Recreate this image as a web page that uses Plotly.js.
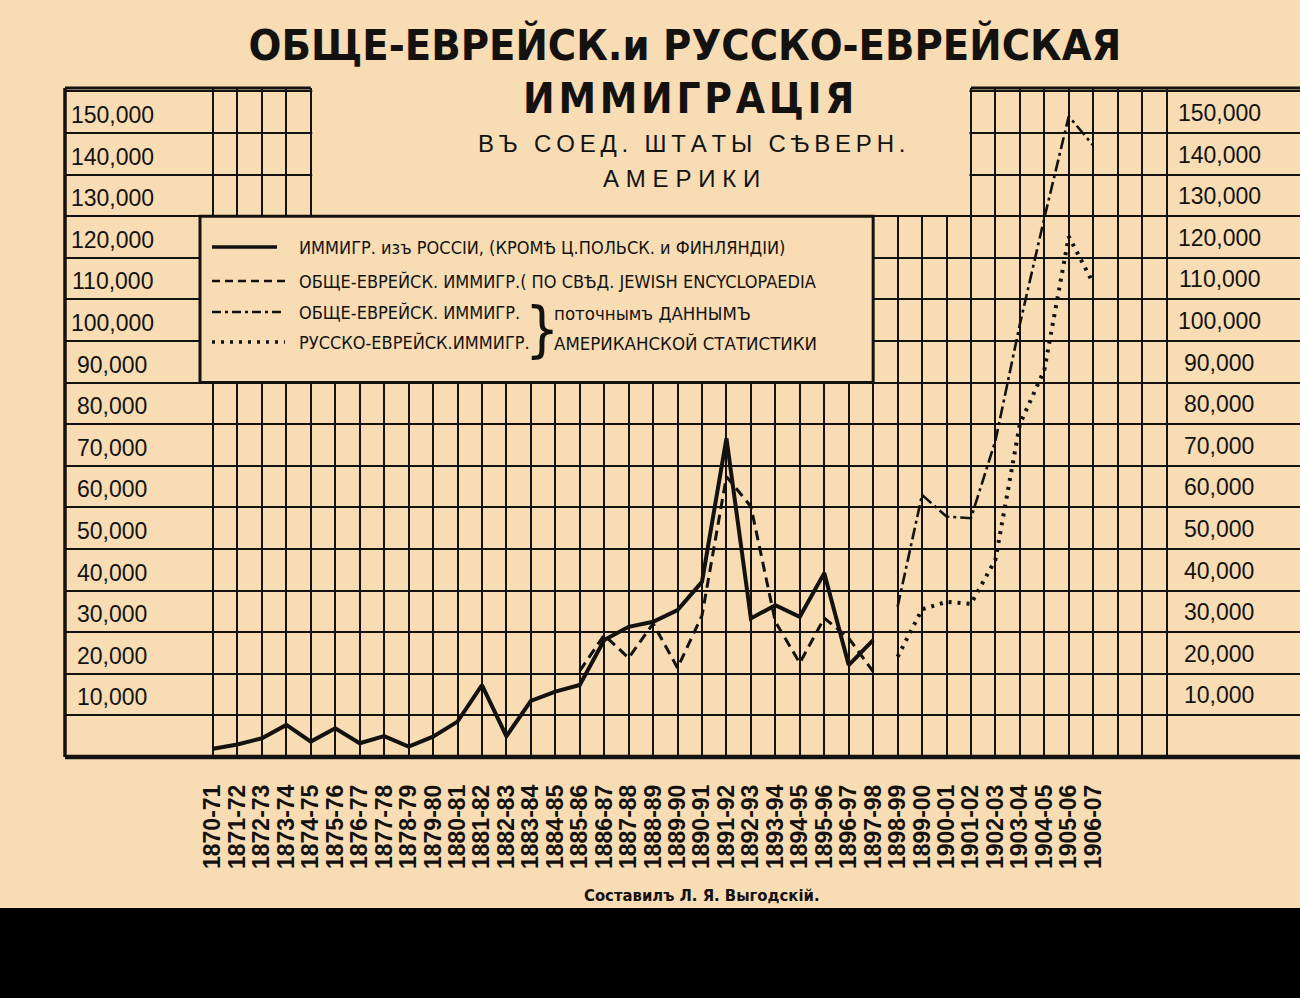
<!DOCTYPE html>
<html>
<head>
<meta charset="utf-8">
<script src="https://cdn.plot.ly/plotly-3.0.1.min.js"></script>
<style>
html,body{margin:0;padding:0;background:#F7DCB4;}
#chart{width:1300px;height:998px;}
</style>
</head>
<body>
<div id="chart"></div>
<script>
// ---------------- DATA ----------------
const periods = ['1870-71','1871-72','1872-73','1873-74','1874-75','1875-76','1876-77','1877-78','1878-79','1879-80',
  '1880-81','1881-82','1882-83','1883-84','1884-85','1885-86','1886-87','1887-88','1888-89','1889-90',
  '1890-91','1891-92','1892-93','1893-94','1894-95','1895-96','1896-97','1897-98','1898-99','1899-00',
  '1900-01','1901-02','1902-03','1903-04','1904-05','1905-06','1906-07'];

// Иммигр. изъ Россiи (solid), 1870-71 .. 1897-98
const russiaStart = '1870-71';
const russiaValues = [2000, 3000, 4500, 7700, 3700, 6900, 3300, 5000, 2500, 4900,
  8500, 17300, 5000, 13500, 15700, 17300, 28100, 31300, 32500, 35300,
  42100, 76600, 33300, 36500, 33700, 44200, 22100, 28100];

// Обще-еврейск. иммигр. по Jewish Encyclopaedia (dashed), 1885-86 .. 1897-98
const encStart = '1885-86';
const encValues = [20700, 29300, 23800, 32100, 21400, 34000, 67400, 60200, 32500, 22600, 33400, 28600, 20500];

// Обще-еврейск. иммигр. (американская статистика, dash-dot), 1898-99 .. 1906-07
const usStart = '1898-99';
const jewishUsValues = [36100, 63000, 57800, 57400, 76000, 104000, 129500, 154000, 147000];

// Русско-еврейск. иммигр. (dotted), 1898-99 .. 1906-07
const russianJewishValues = [24100, 35500, 37300, 36800, 47400, 80000, 93000, 125100, 113900];

const yTickValues = [10000,20000,30000,40000,50000,60000,70000,80000,90000,100000,110000,120000,130000,140000,150000];
const yTickLabels = ['10,000','20,000','30,000','40,000','50,000','60,000','70,000','80,000','90,000','100,000','110,000','120,000','130,000','140,000','150,000'];

const legendLabels = [
  'ИММИГР. изъ РОССIИ, (КРОМѢ Ц.ПОЛЬСК. и ФИНЛЯНДIИ)',
  'ОБЩЕ-ЕВРЕЙСК. ИММИГР.( ПО СВѢД. JEWISH ENCYCLOPAEDIA',
  'ОБЩЕ-ЕВРЕЙСК. ИММИГР.',
  'РУССКО-ЕВРЕЙСК.ИММИГР.'
];
const braceLabels = ['поточнымъ ДАННЫМЪ', 'АМЕРИКАНСКОЙ СТАТИСТИКИ'];
const titleLines = ['ОБЩЕ-ЕВРЕЙСК.и РУССКО-ЕВРЕЙСКАЯ', 'ИММИГРАЦIЯ', 'ВЪ СОЕД. ШТАТЫ СѢВЕРН.', 'АМЕРИКИ'];
const caption = 'Составилъ Л. Я. Выгодскiй.';

// ---------------- GEOMETRY / STYLE ----------------
const BG = '#F7DCB4';
const INK = '#141210';
const NARROW = "'DejaVu Sans Condensed', 'Liberation Sans Narrow', 'Arial Narrow', 'DejaVu Sans', sans-serif";
const SANS = "'Liberation Sans', 'DejaVu Sans', Arial, sans-serif";
const PL = {l: 65, t: 88, w: 1235, h: 669};
const XR = [-6.053, 44.458];
const YMAX = 160800;
const px2x = px => XR[0] + (px - PL.l) / PL.w * (XR[1] - XR[0]);
const px2p = px => (px - PL.l) / PL.w;
const py2p = py => (PL.t + PL.h - py) / PL.h;
const xIdx = label => periods.indexOf(label);
const xsFor = (start, vals) => vals.map((_, k) => xIdx(start) + k);
const spaced = (s, sep) => Array.from(s).join(sep);
const idx2p = i => (i - XR[0]) / (XR[1] - XR[0]);

const gridCols = Array.from({length: periods.length + 3}, (_, i) => i);
const gridText = periods.concat(['', '', '']);

// ---------------- TRACES ----------------
const traces = [
  {x: xsFor(russiaStart, russiaValues), y: russiaValues, type: 'scatter', mode: 'lines',
   line: {color: INK, width: 4}, name: legendLabels[0], hoverinfo: 'skip'},
  {x: xsFor(encStart, encValues), y: encValues, type: 'scatter', mode: 'lines',
   line: {color: INK, width: 3, dash: '10px,6px'}, name: legendLabels[1], hoverinfo: 'skip'},
  {x: xsFor(usStart, jewishUsValues), y: jewishUsValues, type: 'scatter', mode: 'lines',
   line: {color: INK, width: 2.6, dash: '12px,4px,3px,4px'}, name: legendLabels[2], hoverinfo: 'skip'},
  {x: xsFor(usStart, russianJewishValues), y: russianJewishValues, type: 'scatter', mode: 'lines',
   line: {color: INK, width: 4, dash: '3px,6px'}, name: legendLabels[3], hoverinfo: 'skip'}
];

// ---------------- SHAPES ----------------
const shapes = [];
// cover the title area (no grid there)
shapes.push({type: 'rect', xref: 'x', yref: 'y', x0: 4.06, x1: 30.94, y0: 130300, y1: YMAX + 20000,
  fillcolor: BG, line: {width: 0}, layer: 'above'});
// legend box
shapes.push({type: 'rect', xref: 'x', yref: 'y', x0: px2x(200), x1: 27, y0: 90000, y1: 130000,
  fillcolor: BG, line: {color: INK, width: 3}, layer: 'above'});
// legend samples
const sampleY = [247, 281, 312, 342];
const sampleStyles = [
  {width: 3.5, dash: 'solid', x1: 277},
  {width: 2.5, dash: '8px,5px', x1: 285},
  {width: 2.5, dash: '9px,4px,3px,4px', x1: 285},
  {width: 3.5, dash: '3px,6px', x1: 285}
];
sampleStyles.forEach((s, k) => {
  shapes.push({type: 'line', xref: 'paper', yref: 'paper', x0: px2p(212), x1: px2p(s.x1),
    y0: py2p(sampleY[k]), y1: py2p(sampleY[k]), line: {color: INK, width: s.width, dash: s.dash}, layer: 'above'});
});
// frame
const frame = (x0, y0, x1, y1, w) => shapes.push({type: 'line', xref: 'paper', yref: 'paper',
  x0: x0, y0: y0, x1: x1, y1: y1, line: {color: INK, width: w}, layer: 'above'});
frame(0, 0, 0, 1, 3.5);
frame(0, 1, idx2p(4), 1, 3);
frame(idx2p(31), 1, 1, 1, 3);
frame(0, 0, 1, 0, 4.5);
// black band at the bottom of the picture
shapes.push({type: 'rect', xref: 'paper', yref: 'paper', x0: px2p(-20), x1: px2p(1320),
  y0: py2p(1010), y1: py2p(908), fillcolor: '#000000', line: {width: 0}, layer: 'above'});

// ---------------- ANNOTATIONS ----------------
const ann = [];
yTickValues.forEach((v, k) => {
  ann.push({xref: 'x', yref: 'y', x: px2x(112), y: v, yshift: 18, text: yTickLabels[k], showarrow: false,
    xanchor: 'center', yanchor: 'middle', font: {family: SANS, size: 23, color: INK}});
  ann.push({xref: 'x', yref: 'y', x: px2x(1219), y: v, yshift: 20, text: yTickLabels[k], showarrow: false,
    xanchor: 'center', yanchor: 'middle', font: {family: SANS, size: 23, color: INK}});
});
legendLabels.forEach((t, k) => {
  ann.push({xref: 'paper', yref: 'paper', x: px2p(297), y: py2p(sampleY[k]), text: t, showarrow: false,
    xanchor: 'left', yanchor: 'middle', font: {family: NARROW, size: 18, color: INK}});
});
ann.push({xref: 'paper', yref: 'paper', x: px2p(542), y: py2p(329), text: '}', showarrow: false,
  xanchor: 'center', yanchor: 'middle', font: {family: NARROW, size: 60, color: INK}});
braceLabels.forEach((t, k) => {
  ann.push({xref: 'paper', yref: 'paper', x: px2p(552), y: py2p(sampleY[k + 2] + 1), text: t, showarrow: false,
    xanchor: 'left', yanchor: 'middle', font: {family: NARROW, size: 18.5, color: INK}});
});
ann.push({xref: 'paper', yref: 'paper', x: px2p(688), y: py2p(99), text: spaced(titleLines[1], '\u200A'),
  showarrow: false, xanchor: 'center', yanchor: 'middle', font: {family: NARROW, size: 42, weight: 'bold', color: INK}});
ann.push({xref: 'paper', yref: 'paper', x: px2p(691), y: py2p(143), text: spaced(titleLines[2], '\u2009'),
  showarrow: false, xanchor: 'center', yanchor: 'middle', font: {family: SANS, size: 24, color: INK}});
ann.push({xref: 'paper', yref: 'paper', x: px2p(681), y: py2p(178), text: spaced(titleLines[3], '\u2009\u200A'),
  showarrow: false, xanchor: 'center', yanchor: 'middle', font: {family: SANS, size: 24, color: INK}});
ann.push({xref: 'paper', yref: 'paper', x: px2p(702), y: py2p(895), text: caption,
  showarrow: false, xanchor: 'center', yanchor: 'middle', font: {family: NARROW, size: 16.5, weight: 'bold', color: INK}});

// ---------------- LAYOUT ----------------
const layout = {
  width: 1300, height: 998,
  paper_bgcolor: BG, plot_bgcolor: BG,
  margin: {l: PL.l, r: 1300 - PL.l - PL.w, t: PL.t, b: 998 - PL.t - PL.h, pad: 0},
  showlegend: false,
  title: {text: titleLines[0], x: 685 / 1300, xanchor: 'center', y: 1 - 45 / 998, yanchor: 'middle',
    font: {family: NARROW, size: 43, weight: 'bold', color: INK}},
  xaxis: {range: XR, tickmode: 'array', tickvals: gridCols, ticktext: gridText, tickangle: -90,
    showgrid: true, gridcolor: INK, gridwidth: 2, zeroline: false, showline: false, ticks: '',
    ticklabelstandoff: 22, tickfont: {family: SANS, size: 23, weight: 'bold', color: INK}, fixedrange: true},
  yaxis: {range: [0, YMAX], tickmode: 'linear', tick0: 0, dtick: 10000, showgrid: true, gridcolor: INK,
    gridwidth: 2, zeroline: false, showline: false, ticks: '', showticklabels: false, fixedrange: true},
  shapes: shapes,
  annotations: ann
};

Plotly.newPlot('chart', traces, layout, {displayModeBar: false, staticPlot: true});
</script>
</body>
</html>
